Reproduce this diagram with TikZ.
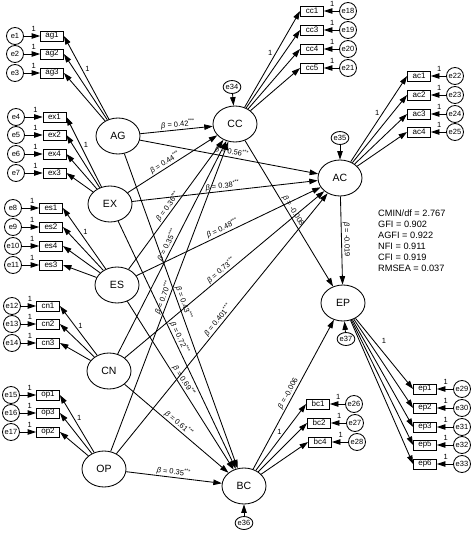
\documentclass[tikz,border=0pt]{standalone}
\usepackage{fontspec}
\setmainfont{Liberation Sans}
\usetikzlibrary{arrows.meta,shapes.geometric}
\newcommand\pathlab[1]{\textit{β} = #1\textsuperscript{***}}
\newcommand\pathlabns[1]{\textit{β} = #1}
\begin{document}
\begin{tikzpicture}[x=1pt,y=-1pt,
  every node/.style={inner sep=0pt},
  lat/.style={draw, ellipse, minimum width=44pt, minimum height=36pt, fill=white, font=\fontsize{10.5}{12}\selectfont, line width=0.85pt},
  ind/.style={draw, rectangle, minimum width=23pt, minimum height=10pt, fill=white, font=\fontsize{8}{9}\selectfont, line width=0.85pt},
  err/.style={draw, circle, minimum size=17pt, fill=white, font=\fontsize{7.5}{8}\selectfont, line width=0.85pt},
  lerr/.style={draw, ellipse, minimum width=17pt, minimum height=13pt, fill=white, font=\fontsize{7.5}{8}\selectfont, line width=0.85pt},
  arr/.style={-{Triangle[length=8.5pt,width=5.5pt]}, line width=0.85pt},
  one/.style={font=\fontsize{7.5}{8}\selectfont, inner sep=1pt},
  blab/.style={font=\fontsize{7.5}{8}\selectfont, sloped, above, inner sep=1pt},
]
\useasboundingbox (0,0) rectangle (474,533);

% latent variables
\node[lat] (AG) at (118,136) {AG};
\node[lat] (EX) at (110,204) {EX};
\node[lat] (ES) at (117,285) {ES};
\node[lat] (CN) at (109,371) {CN};
\node[lat] (OP) at (104,469) {OP};
\node[lat] (CC) at (235,124) {CC};
\node[lat] (AC) at (340,178) {AC};
\node[lat] (EP) at (343,303) {EP};
\node[lat] (BC) at (244,486) {BC};

% latent errors
\node[lerr] (e34) at (232,87) {e34};
\node[lerr] (e35) at (340,138) {e35};
\node[lerr] (e37) at (346,339) {e37};
\node[lerr] (e36) at (244,523) {e36};
\draw[arr] (e34) -- (CC);
\draw[arr] (e35) -- (AC);
\draw[arr] (e37) -- (EP);
\draw[arr] (e36) -- (BC);

% left indicators
\foreach \n/\x/\y/\e/\ex in {ag1/52/36/e1/15, ag2/52/54/e2/15, ag3/52/73/e3/15,
  ex1/54.5/117/e4/16, ex2/54.5/135/e5/16, ex4/54.5/154/e6/16, ex3/54.5/173/e7/16,
  es1/51/208/e8/13, es2/51/227/e9/13, es4/51/246/e10/13, es3/51/265/e11/13,
  cn1/48/306/e12/12, cn2/48/324/e13/12, cn3/48/343/e14/12,
  op1/48/395/e15/11, op3/48/413/e16/11, op2/48/432/e17/11}{
  \node[ind] (\n) at (\x,\y) {\n};
  \node[err] (\e) at (\ex,\y) {\e};
  \draw[arr] (\e) -- node[one, above=3pt, pos=0.6]{1} (\n.west);
}
\draw[arr] (AG) -- node[one, pos=0.6, right=2pt]{1} (ag1.east);
\draw[arr] (AG) -- (ag2.east);
\draw[arr] (AG) -- (ag3.east);
\draw[arr] (EX) -- node[one, pos=0.6, right=2pt]{1} (ex1.east);
\draw[arr] (EX) -- (ex2.east);
\draw[arr] (EX) -- (ex4.east);
\draw[arr] (EX) -- (ex3.east);
\draw[arr] (ES) -- node[one, pos=0.6, right=2pt]{1} (es1.east);
\draw[arr] (ES) -- (es2.east);
\draw[arr] (ES) -- (es4.east);
\draw[arr] (ES) -- (es3.east);
\draw[arr] (CN) -- node[one, pos=0.6, right=2pt]{1} (cn1.east);
\draw[arr] (CN) -- (cn2.east);
\draw[arr] (CN) -- (cn3.east);
\draw[arr] (OP) -- node[one, pos=0.6, right=2pt]{1} (op1.east);
\draw[arr] (OP) -- (op3.east);
\draw[arr] (OP) -- (op2.east);

% right indicators
\foreach \n/\x/\y/\e/\ex in {cc1/312/11/e18/348, cc3/312/30/e19/348, cc4/312/49/e20/348, cc5/312/68/e21/348,
  ac1/419/76/e22/455, ac2/419/95/e23/455, ac3/419/114/e24/455, ac4/419/132/e25/455,
  ep1/425/389/e29/462, ep2/425/408/e30/462, ep3/425/427/e31/462, ep5/425/445/e32/462, ep6/425/464/e33/462,
  bc1/318/404/e26/354, bc2/319/423/e27/355, bc4/320/442/e28/357}{
  \node[ind] (\n) at (\x,\y) {\n};
  \node[err] (\e) at (\ex,\y) {\e};
  \draw[arr] (\e) -- node[one, above=3pt, pos=0.45]{1} (\n.east);
}
\draw[arr] (CC) -- node[one, pos=0.56, left=2pt]{1} (cc1.west);
\draw[arr] (CC) -- (cc3.west);
\draw[arr] (CC) -- (cc4.west);
\draw[arr] (CC) -- (cc5.west);
\draw[arr] (AC) -- node[one, pos=0.57, left=2pt]{1} (ac1.west);
\draw[arr] (AC) -- (ac2.west);
\draw[arr] (AC) -- (ac3.west);
\draw[arr] (AC) -- (ac4.west);
\draw[arr] (EP) -- node[one, pos=0.4, above right=2pt]{1} (ep1.west);
\draw[arr] (EP) -- (ep2.west);
\draw[arr] (EP) -- (ep3.west);
\draw[arr] (EP) -- (ep5.west);
\draw[arr] (EP) -- (ep6.west);
\draw[arr] (BC) -- node[one, pos=0.58, left=2pt]{1} (bc1.west);
\draw[arr] (BC) -- (bc2.west);
\draw[arr] (BC) -- (bc4.west);

% structural paths
\draw[arr] (AG) -- node[blab, pos=0.53]{\pathlab{0.42}} (CC);
\draw[arr] (AG) -- node[blab, pos=0.51]{\pathlab{0.56}} (AC);
\draw[arr] (AG) -- node[blab, pos=0.48]{\pathlab{0.43}} (BC);
\draw[arr] (EX) -- node[blab, pos=0.45]{\pathlab{0.44}} (CC);
\draw[arr] (EX) -- node[blab, pos=0.49]{\pathlab{0.38}} (AC);
\draw[arr] (EX) -- node[blab, pos=0.48]{\pathlab{0.72}} (BC);
\draw[arr] (ES) -- node[blab, pos=0.46]{\pathlab{0.36}} (CC);
\draw[arr] (ES) -- node[blab, pos=0.48]{\pathlab{0.48}} (AC);
\draw[arr] (ES) -- node[blab, pos=0.49]{\pathlab{0.69}} (BC);
\draw[arr] (CN) -- node[blab, pos=0.5]{\pathlab{0.35}} (CC);
\draw[arr] (CN) -- node[blab, pos=0.5]{\pathlab{0.73}} (AC);
\draw[arr] (CN) -- node[blab, pos=0.49]{\pathlab{0.61}} (BC);
\draw[arr] (OP) -- node[blab, pos=0.49]{\pathlab{0.70}} (CC);
\draw[arr] (OP) -- node[blab, pos=0.5]{\pathlab{0.401}} (AC);
\draw[arr] (OP) -- node[blab, pos=0.49]{\pathlab{0.35}} (BC);
\draw[arr] (CC) -- node[blab, pos=0.5]{\pathlabns{-0.008}} (EP);
\draw[arr] (AC) -- node[blab, pos=0.49]{\pathlabns{-0.019}} (EP);
\draw[arr] (BC) -- node[blab, pos=0.49]{\pathlabns{-0.006}} (EP);

% fit indices
\node[anchor=west, align=left, font=\fontsize{9.2}{11}\selectfont] (fit) at (378,240.5)
  {CMIN/df = 2.767\\GFI = 0.902\\AGFI = 0.922\\NFI = 0.911\\CFI = 0.919\\RMSEA = 0.037};
\end{tikzpicture}
\end{document}
